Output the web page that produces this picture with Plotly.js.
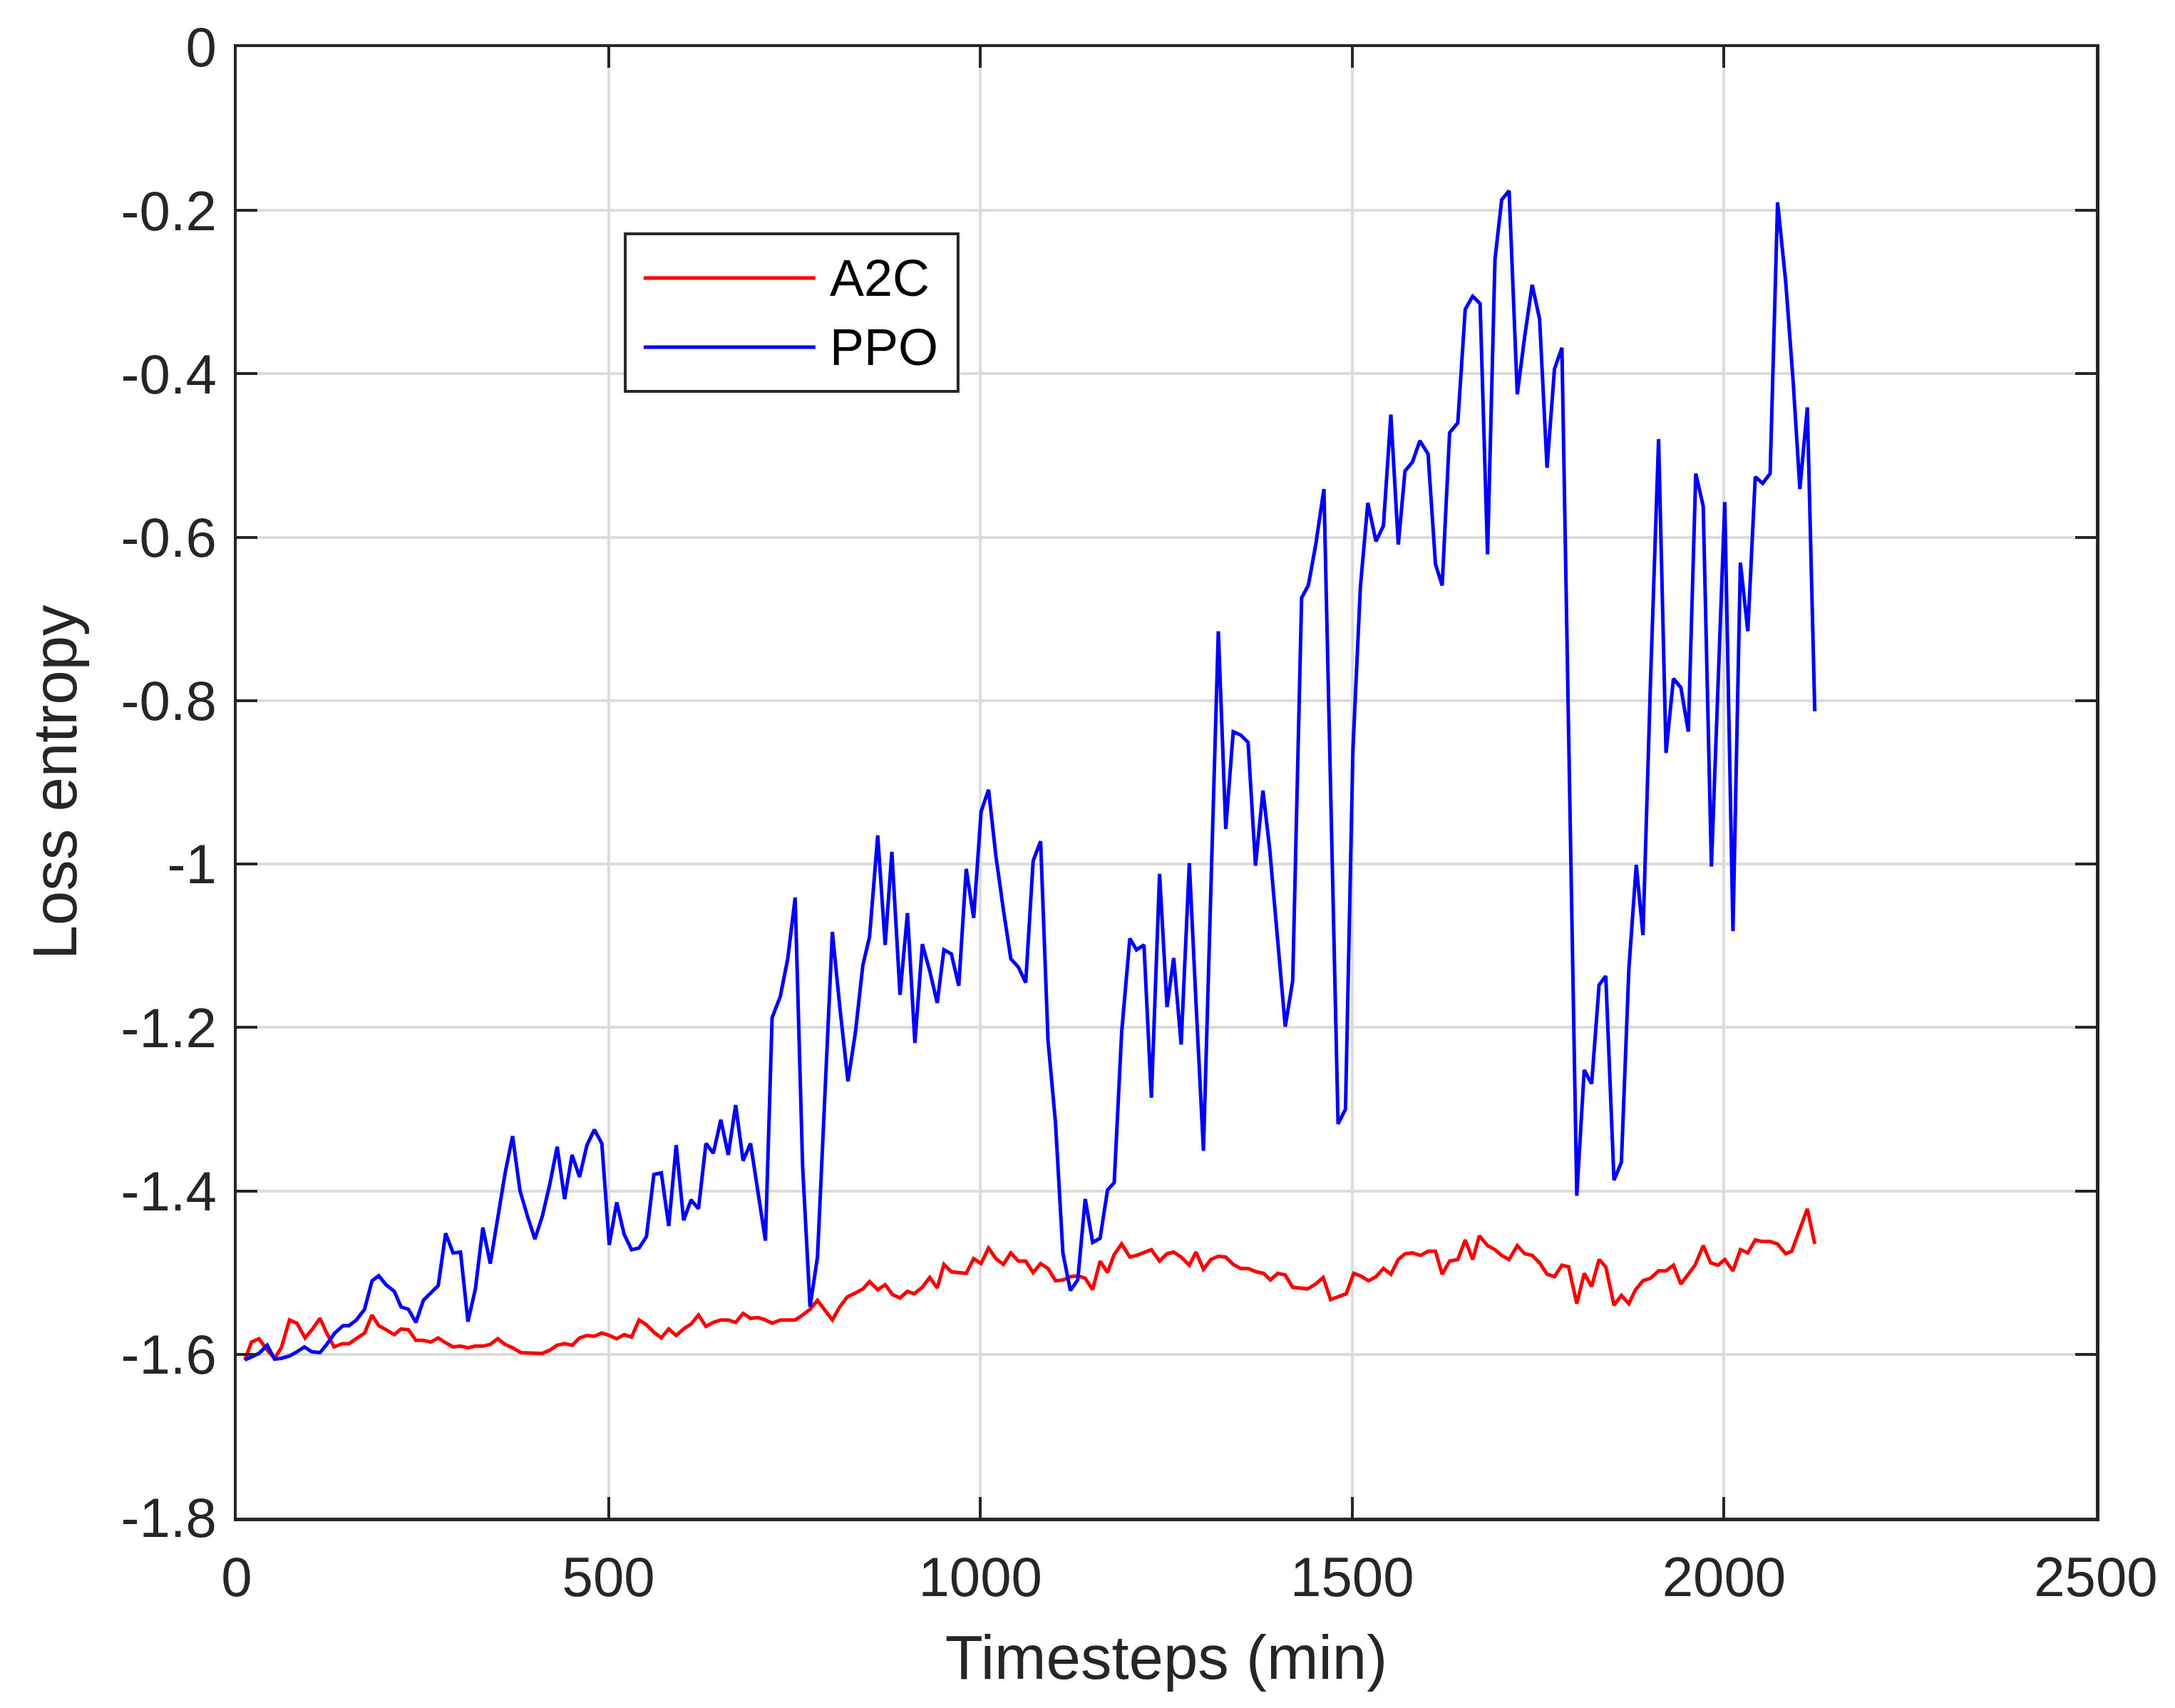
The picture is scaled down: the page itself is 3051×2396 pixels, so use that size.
<!DOCTYPE html>
<html>
<head>
<meta charset="utf-8">
<script src="https://cdn.plot.ly/plotly-3.0.1.min.js"></script>
<style>html,body{margin:0;padding:0;background:#fff;}#chart{width:3051px;height:2396px;}</style>
</head>
<body>
<div id="chart"></div>
<script>
// A2C series
const a2cX = [11,20,30,41,51,60,71,81,92,102,112,121,131,142,151,161,172,182,191,201,212,221,231,241,251,261,271,281,291,301,311,321,331,341,351,361,371,382,392,401,411,421,431,441,451,461,471,481,491,501,511,521,531,541,551,561,571,581,591,601,611,621,631,641,651,661,671,681,691,701,711,720,731,741,751,761,771,781,791,801,811,821,832,842,851,862,872,882,892,902,911,922,932,942,951,961,971,981,991,1001,1011,1021,1031,1041,1051,1061,1071,1081,1091,1101,1111,1121,1131,1141,1151,1161,1171,1180,1190,1201,1210,1220,1230,1241,1251,1260,1270,1281,1290,1300,1310,1320,1330,1340,1350,1360,1371,1381,1390,1400,1410,1420,1430,1440,1451,1461,1471,1482,1492,1502,1511,1522,1532,1542,1552,1562,1571,1581,1592,1602,1612,1621,1631,1642,1652,1662,1671,1682,1692,1701,1711,1722,1732,1742,1752,1762,1772,1782,1791,1802,1812,1822,1832,1841,1852,1862,1872,1881,1891,1901,1912,1922,1932,1942,1952,1961,1972,1982,1992,2001,2012,2022,2032,2042,2051,2062,2072,2083,2091,2101,2112,2122];
const a2cY = [-1.607,-1.585,-1.581,-1.595,-1.605,-1.592,-1.558,-1.562,-1.580,-1.569,-1.556,-1.574,-1.591,-1.587,-1.587,-1.581,-1.574,-1.552,-1.565,-1.570,-1.576,-1.569,-1.570,-1.583,-1.583,-1.585,-1.580,-1.586,-1.591,-1.590,-1.592,-1.590,-1.590,-1.588,-1.581,-1.588,-1.592,-1.598,-1.598,-1.598,-1.599,-1.595,-1.589,-1.587,-1.589,-1.580,-1.577,-1.578,-1.574,-1.577,-1.581,-1.576,-1.579,-1.558,-1.564,-1.573,-1.580,-1.569,-1.577,-1.569,-1.563,-1.552,-1.566,-1.561,-1.558,-1.558,-1.561,-1.550,-1.556,-1.555,-1.558,-1.562,-1.558,-1.558,-1.558,-1.552,-1.545,-1.534,-1.546,-1.558,-1.542,-1.530,-1.525,-1.520,-1.511,-1.521,-1.515,-1.527,-1.531,-1.523,-1.526,-1.518,-1.506,-1.519,-1.490,-1.499,-1.500,-1.501,-1.483,-1.489,-1.470,-1.483,-1.490,-1.476,-1.486,-1.486,-1.500,-1.489,-1.495,-1.510,-1.509,-1.505,-1.504,-1.507,-1.521,-1.486,-1.500,-1.478,-1.465,-1.481,-1.479,-1.476,-1.472,-1.486,-1.477,-1.475,-1.481,-1.491,-1.475,-1.496,-1.484,-1.480,-1.481,-1.490,-1.495,-1.495,-1.499,-1.501,-1.509,-1.501,-1.503,-1.518,-1.519,-1.520,-1.514,-1.506,-1.533,-1.529,-1.526,-1.501,-1.504,-1.510,-1.505,-1.495,-1.502,-1.484,-1.477,-1.476,-1.479,-1.474,-1.474,-1.502,-1.486,-1.484,-1.460,-1.484,-1.455,-1.467,-1.472,-1.479,-1.484,-1.467,-1.477,-1.479,-1.488,-1.502,-1.505,-1.491,-1.493,-1.538,-1.501,-1.517,-1.484,-1.493,-1.540,-1.528,-1.538,-1.521,-1.510,-1.507,-1.498,-1.498,-1.491,-1.514,-1.501,-1.491,-1.467,-1.488,-1.491,-1.484,-1.498,-1.472,-1.476,-1.460,-1.462,-1.462,-1.465,-1.477,-1.474,-1.449,-1.422,-1.465];

// PPO series
const ppoX = [11,20,30,41,51,60,71,81,91,101,112,121,132,143,151,161,172,182,191,201,212,221,231,241,251,261,271,281,291,301,311,321,331,341,351,361,371,381,391,401,411,421,431,441,451,461,471,481,491,501,511,521,531,541,551,561,571,581,591,601,611,621,631,641,651,661,671,681,691,701,711,720,731,741,751,761,771,781,791,801,811,822,832,842,851,862,872,881,892,902,912,922,932,942,951,961,971,981,991,1001,1011,1021,1031,1041,1051,1061,1071,1081,1091,1101,1111,1121,1131,1141,1151,1161,1171,1180,1190,1201,1210,1220,1230,1241,1251,1260,1270,1281,1290,1300,1310,1320,1330,1340,1350,1360,1370,1380,1389,1399,1410,1420,1432,1441,1451,1462,1471,1481,1491,1501,1511,1521,1532,1542,1552,1562,1571,1581,1591,1602,1612,1621,1631,1642,1652,1662,1672,1682,1692,1701,1711,1722,1732,1742,1752,1762,1772,1782,1792,1802,1812,1822,1832,1841,1852,1862,1872,1882,1891,1901,1912,1922,1932,1942,1952,1962,1972,1983,1992,2001,2012,2022,2032,2042,2052,2062,2072,2083,2093,2102,2112,2122];
const ppoY = [-1.607,-1.603,-1.599,-1.589,-1.606,-1.605,-1.602,-1.597,-1.591,-1.597,-1.598,-1.588,-1.574,-1.565,-1.565,-1.558,-1.545,-1.510,-1.504,-1.515,-1.523,-1.542,-1.545,-1.561,-1.534,-1.525,-1.516,-1.452,-1.476,-1.475,-1.560,-1.520,-1.445,-1.489,-1.434,-1.378,-1.333,-1.400,-1.431,-1.459,-1.431,-1.392,-1.346,-1.410,-1.356,-1.383,-1.344,-1.325,-1.342,-1.466,-1.414,-1.453,-1.472,-1.470,-1.456,-1.380,-1.378,-1.443,-1.344,-1.436,-1.411,-1.422,-1.342,-1.354,-1.313,-1.356,-1.295,-1.363,-1.342,-1.403,-1.461,-1.188,-1.162,-1.116,-1.041,-1.370,-1.542,-1.481,-1.280,-1.083,-1.175,-1.266,-1.206,-1.124,-1.089,-0.965,-1.099,-0.985,-1.160,-1.060,-1.219,-1.098,-1.131,-1.170,-1.105,-1.110,-1.149,-1.006,-1.066,-0.936,-0.909,-0.991,-1.056,-1.116,-1.126,-1.145,-0.996,-0.972,-1.216,-1.316,-1.476,-1.522,-1.509,-1.410,-1.463,-1.458,-1.399,-1.390,-1.206,-1.091,-1.105,-1.099,-1.286,-1.012,-1.175,-1.115,-1.221,-0.999,-1.170,-1.351,-1.030,-0.715,-0.957,-0.838,-0.842,-0.851,-1.002,-0.910,-0.981,-1.086,-1.199,-1.143,-0.674,-0.659,-0.609,-0.541,-0.930,-1.318,-1.300,-0.860,-0.661,-0.558,-0.605,-0.586,-0.450,-0.609,-0.519,-0.508,-0.482,-0.498,-0.633,-0.659,-0.472,-0.460,-0.321,-0.305,-0.314,-0.621,-0.260,-0.187,-0.176,-0.425,-0.354,-0.291,-0.333,-0.515,-0.394,-0.368,-0.890,-1.406,-1.252,-1.269,-1.148,-1.137,-1.387,-1.365,-1.129,-1.001,-1.087,-0.780,-0.480,-0.864,-0.773,-0.784,-0.838,-0.522,-0.562,-1.003,-0.780,-0.557,-1.082,-0.631,-0.715,-0.526,-0.534,-0.522,-0.190,-0.288,-0.410,-0.541,-0.441,-0.813];

const seriesNames = ["A2C", "PPO"];
const seriesColors = ["#ff0000", "#0000ff"];

const xTickVals = [0, 500, 1000, 1500, 2000, 2500];
const xTickText = ["0", "500", "1000", "1500", "2000", "2500"];
const yTickVals = [-1.8, -1.6, -1.4, -1.2, -1, -0.8, -0.6, -0.4, -0.2, 0];
const yTickText = ["-1.8", "-1.6", "-1.4", "-1.2", "-1", "-0.8", "-0.6", "-0.4", "-0.2", "0"];

const FONT = "Liberation Sans, Arial, sans-serif";
const AX = "#262626";
const LW = 5;

const traces = [
  {x: a2cX, y: a2cY, type: "scatter", mode: "lines", name: seriesNames[0], line: {color: seriesColors[0], width: LW}, showlegend: false},
  {x: ppoX, y: ppoY, type: "scatter", mode: "lines", name: seriesNames[1], line: {color: seriesColors[1], width: LW}, showlegend: false}
];

// Legend drawn as a boxed key in paper coordinates (MATLAB style long line samples)
const legBox = {x0: 0.2090, x1: 0.3880, y0: 0.7659, y1: 0.8730};
const legRowsY = [0.8430, 0.7959];
const legLineX = [0.2189, 0.3113];
const legTextX = 0.3183;

const shapes = [
  {type: "rect", xref: "paper", yref: "paper", x0: legBox.x0, x1: legBox.x1, y0: legBox.y0, y1: legBox.y1,
   line: {color: AX, width: 4}, fillcolor: "#ffffff", layer: "above"}
];
const annotations = [];
seriesNames.forEach(function (nm, i) {
  shapes.push({type: "line", xref: "paper", yref: "paper", x0: legLineX[0], x1: legLineX[1], y0: legRowsY[i], y1: legRowsY[i],
               line: {color: seriesColors[i], width: LW}, layer: "above"});
  annotations.push({xref: "paper", yref: "paper", x: legTextX, y: legRowsY[i], xanchor: "left", yanchor: "middle",
                    text: nm, showarrow: false, font: {family: FONT, size: 72, color: "#000000"}});
});

const axisCommon = {
  showline: true, linecolor: AX, linewidth: 4.5, mirror: "ticks",
  ticks: "inside", ticklen: 29, tickwidth: 4, tickcolor: AX,
  showgrid: true, gridcolor: "#dcdcdc", gridwidth: 4, zeroline: false,
  tickfont: {family: FONT, size: 78, color: AX}, automargin: false
};

const layout = {
  width: 3051, height: 2396,
  paper_bgcolor: "#ffffff", plot_bgcolor: "#ffffff",
  margin: {l: 332, r: 111, t: 66, b: 267},
  showlegend: false,
  shapes: shapes,
  annotations: annotations,
  xaxis: Object.assign({}, axisCommon, {
    range: [0, 2500], tickmode: "array", tickvals: xTickVals, ticktext: xTickText, ticklabelstandoff: 12,
    title: {text: "Timesteps (min)", font: {family: FONT, size: 87, color: AX}, standoff: 40}
  }),
  yaxis: Object.assign({}, axisCommon, {
    range: [-1.8, 0], tickmode: "array", tickvals: yTickVals, ticktext: yTickText, ticklabelstandoff: 8,
    title: {text: "Loss entropy", font: {family: FONT, size: 87, color: AX}, standoff: 34}
  })
};

Plotly.newPlot("chart", traces, layout, {displayModeBar: false, staticPlot: true});
</script>
</body>
</html>
